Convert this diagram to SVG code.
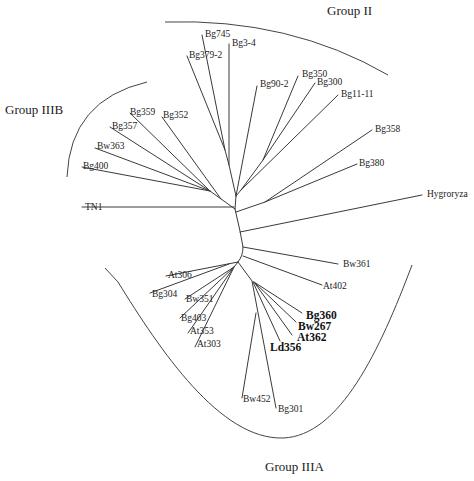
<svg xmlns="http://www.w3.org/2000/svg" width="474" height="481" viewBox="0 0 474 481">
<style>
.e{stroke:#3a3a3a;stroke-width:1;fill:none;stroke-linecap:round}
.a{stroke:#444;stroke-width:1;fill:none}
.t{font-family:"Liberation Serif","Times New Roman",serif;font-size:9.5px;fill:#222}
.b{font-family:"Liberation Serif","Times New Roman",serif;font-size:11.5px;font-weight:bold;fill:#111}
.g{font-family:"Liberation Serif","Times New Roman",serif;font-size:13px;fill:#222}
</style>
<rect width="474" height="481" fill="#fff"/>
<g id="arcs">
<path class="a" d="M165,22 Q290,18 388,75"/>
<path class="a" d="M147,82 Q70,100 67,177"/>
<path class="a" d="M118,282 C160,350 220,440 283,438 C340,436 380,350 412,265"/>
<path class="a" d="M105,268 L118,282" stroke-width="1.8"/>
</g>
<g id="connectors">
<path class="e" d="M235,209 L240,231 L243,247 Q243,256 238,262"/>
<path class="e" d="M236,196 L235,209"/>
<path class="e" d="M236,196 L229,165 L229,44"/>
<path class="e" d="M229,165 L225,150 L202,35"/>
<path class="e" d="M225,150 L187,56"/>
<path class="e" d="M236,196 L257,86"/>
<path class="e" d="M236,196 L241,190 L338,95"/>
<path class="e" d="M241,190 L263,160 L298,76"/>
<path class="e" d="M263,160 L315,83"/>
<path class="e" d="M210,191 L235,209"/>
<path class="e" d="M221,199 L162,117"/>
<path class="e" d="M210,191 L130,113"/>
<path class="e" d="M210,191 L110,127"/>
<path class="e" d="M210,191 L95,148"/>
<path class="e" d="M210,191 L82,167"/>
<path class="e" d="M234,207 L82,207"/>
<path class="e" d="M236,212 L265,202 L372,130"/>
<path class="e" d="M265,202 L357,164"/>
<path class="e" d="M240,232 L422,195"/>
<path class="e" d="M243,247 L338,264"/>
<path class="e" d="M243,256 L322,285"/>
<path class="e" d="M238,262 L252,281 L276,408"/>
<path class="e" d="M256,313 L242,398"/>
<path class="e" d="M254,282 L302,313"/>
<path class="e" d="M254,282 L296,322"/>
<path class="e" d="M254,282 L292,335"/>
<path class="e" d="M253,282 L280,341"/>
<path class="e" d="M238,262 L166,276"/>
<path class="e" d="M229,264 L150,293"/>
<path class="e" d="M238,262 L234,267 L185,299"/>
<path class="e" d="M234,267 L180,318"/>
<path class="e" d="M234,267 L188,333"/>
<path class="e" d="M234,267 L195,347"/>
</g>
<g id="labels">
<text class="g" x="327" y="15">Group II</text>
<text class="g" x="5" y="114">Group IIIB</text>
<text class="g" x="265" y="471">Group IIIA</text>
<text class="t" x="205" y="37">Bg745</text>
<text class="t" x="232" y="46">Bg3-4</text>
<text class="t" x="189" y="58">Bg379-2</text>
<text class="t" x="260" y="87">Bg90-2</text>
<text class="t" x="302" y="77">Bg350</text>
<text class="t" x="317" y="85">Bg300</text>
<text class="t" x="341" y="97">Bg11-11</text>
<text class="t" x="375" y="132">Bg358</text>
<text class="t" x="359" y="166">Bg380</text>
<text class="t" x="427" y="197">Hygroryza</text>
<text class="t" x="130" y="115">Bg359</text>
<text class="t" x="163" y="118">Bg352</text>
<text class="t" x="112" y="129">Bg357</text>
<text class="t" x="97" y="149">Bw363</text>
<text class="t" x="83" y="169">Bg400</text>
<text class="t" x="85" y="210">TN1</text>
<text class="t" x="343" y="267">Bw361</text>
<text class="t" x="323" y="289">At402</text>
<text class="b" x="306" y="319">Bg360</text>
<text class="b" x="298" y="330">Bw267</text>
<text class="b" x="297" y="341">At362</text>
<text class="b" x="270" y="351">Ld356</text>
<text class="t" x="168" y="278">At306</text>
<text class="t" x="152" y="297">Bg304</text>
<text class="t" x="186" y="302">Bw351</text>
<text class="t" x="181" y="321">Bg403</text>
<text class="t" x="190" y="334">At353</text>
<text class="t" x="197" y="347">At303</text>
<text class="t" x="243" y="402">Bw452</text>
<text class="t" x="278" y="412">Bg301</text>
</g>
</svg>
